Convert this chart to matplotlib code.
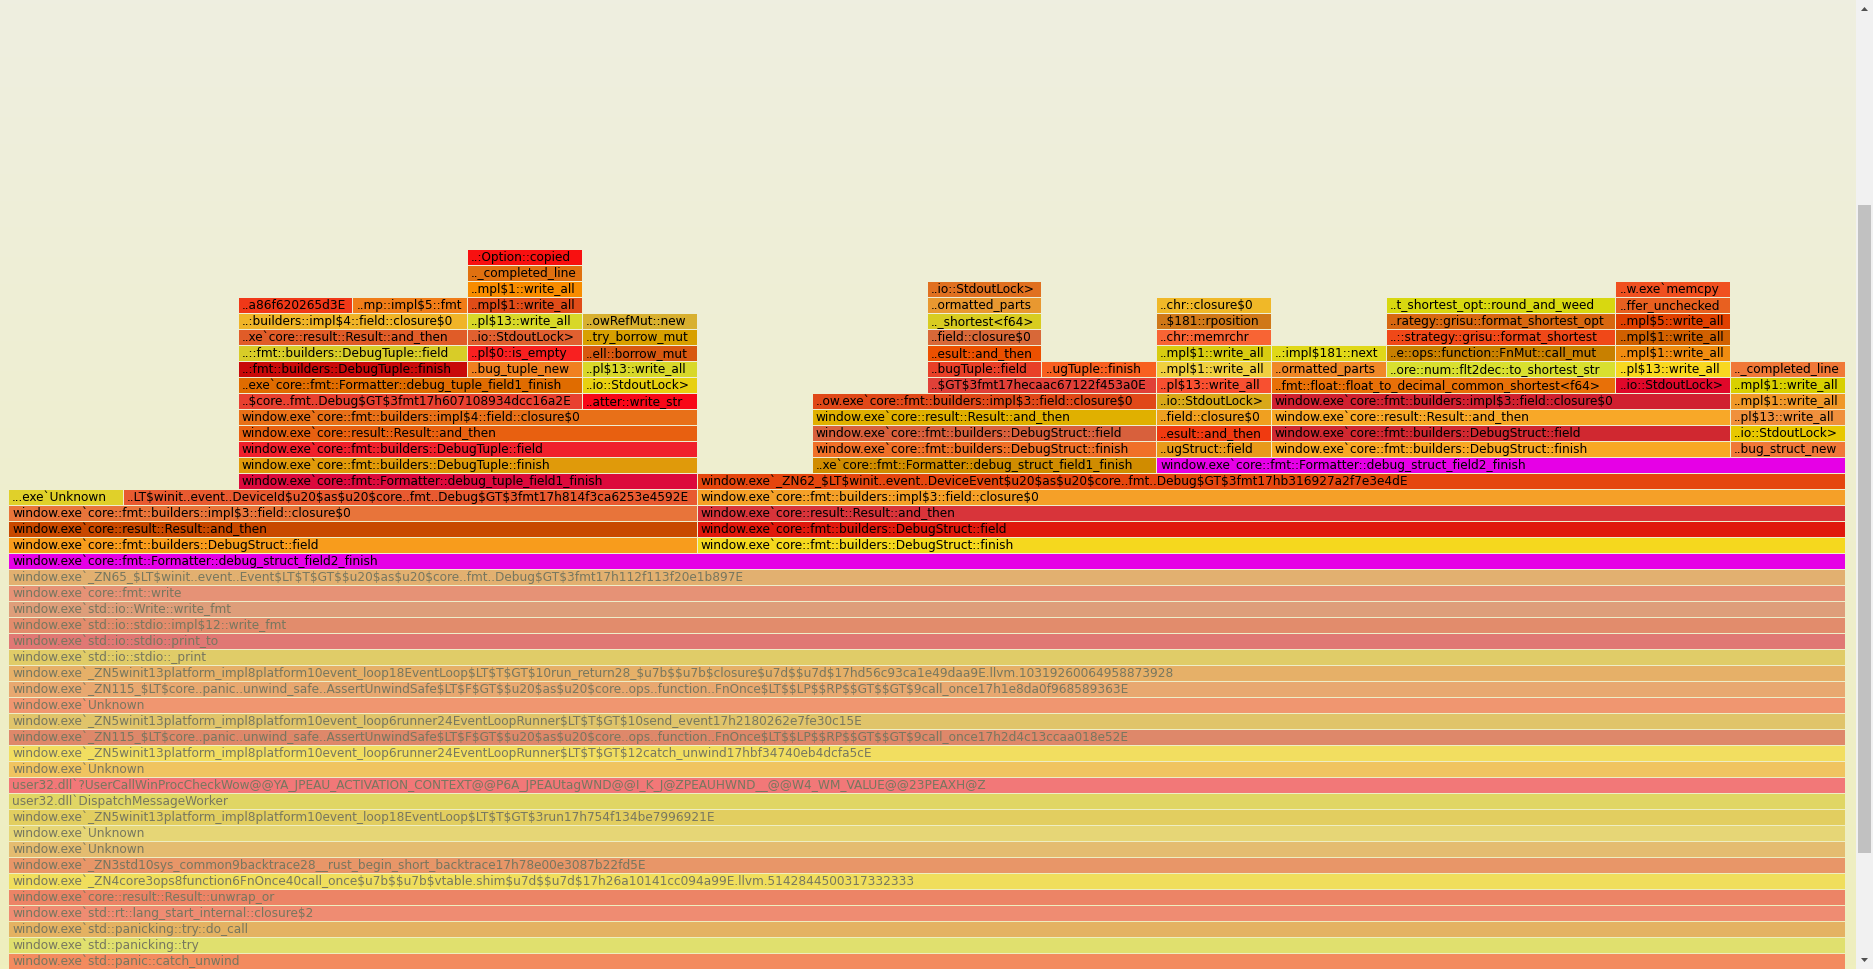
import matplotlib
matplotlib.use("Agg")
import matplotlib.pyplot as plt
from matplotlib.patches import Rectangle, Polygon
import numpy as np

plt.rcParams["text.parse_math"] = False

W, H = 1873, 969
total_samples = 16

# parent frames of the zoomed frame (drawn faded), bottom -> top, full width
parent_labels = [
    "window.exe`std::panic::catch_unwind",
    "window.exe`std::panicking::try",
    "window.exe`std::panicking::try::do_call",
    "window.exe`std::rt::lang_start_internal::closure$2",
    "window.exe`core::result::Result::unwrap_or",
    "window.exe`_ZN4core3ops8function6FnOnce40call_once$u7b$$u7b$vtable.shim$u7d$$u7d$17h26a10141cc094a99E.llvm.5142844500317332333",
    "window.exe`_ZN3std10sys_common9backtrace28__rust_begin_short_backtrace17h78e00e3087b22fd5E",
    "window.exe`Unknown",
    "window.exe`Unknown",
    "window.exe`_ZN5winit13platform_impl8platform10event_loop18EventLoop$LT$T$GT$3run17h754f134be7996921E",
    "user32.dll`DispatchMessageWorker",
    "user32.dll`?UserCallWinProcCheckWow@@YA_JPEAU_ACTIVATION_CONTEXT@@P6A_JPEAUtagWND@@I_K_J@ZPEAUHWND__@@W4_WM_VALUE@@23PEAXH@Z",
    "window.exe`Unknown",
    "window.exe`_ZN5winit13platform_impl8platform10event_loop6runner24EventLoopRunner$LT$T$GT$12catch_unwind17hbf34740eb4dcfa5cE",
    "window.exe`_ZN115_$LT$core..panic..unwind_safe..AssertUnwindSafe$LT$F$GT$$u20$as$u20$core..ops..function..FnOnce$LT$$LP$$RP$$GT$$GT$9call_once17h2d4c13ccaa018e52E",
    "window.exe`_ZN5winit13platform_impl8platform10event_loop6runner24EventLoopRunner$LT$T$GT$10send_event17h2180262e7fe30c15E",
    "window.exe`Unknown",
    "window.exe`_ZN115_$LT$core..panic..unwind_safe..AssertUnwindSafe$LT$F$GT$$u20$as$u20$core..ops..function..FnOnce$LT$$LP$$RP$$GT$$GT$9call_once17h1e8da0f968589363E",
    "window.exe`_ZN5winit13platform_impl8platform10event_loop18EventLoop$LT$T$GT$10run_return28_$u7b$$u7b$closure$u7d$$u7d$17hd56c93ca1e49daa9E.llvm.10319260064958873928",
    "window.exe`std::io::stdio::_print",
    "window.exe`std::io::stdio::print_to",
    "window.exe`std::io::stdio::impl$12::write_fmt",
    "window.exe`std::io::Write::write_fmt",
    "window.exe`core::fmt::write",
    "window.exe`_ZN65_$LT$winit..event..Event$LT$T$GT$$u20$as$u20$core..fmt..Debug$GT$3fmt17h112f113f20e1b897E",
]
parent_colors = [
    "#f38b5f", "#e0e06e", "#e4b262", "#ef8c72", "#ec8466", "#f0de5c",
    "#e89668", "#e4bc70", "#e6d676", "#e2ce60", "#e0d664", "#f27878",
    "#f0c460", "#f2de60", "#de886a", "#e0c46a", "#f09670", "#e8a870",
    "#e6b068", "#e0cc68", "#e07874", "#e28c6c", "#de9e7a", "#e69276",
    "#e2b070",
]

focus_label = "window.exe`core::fmt::Formatter::debug_struct_field2_finish"
focus_color = "#e600e6"

# frames above the zoomed frame: depth, first sample, sample count, label
child_depth = [
    26, 26,
    27, 27,
    28, 28,
    29, 29, 29,
    30, 30,
    31, 31, 31,
    32, 32, 32, 32, 32,
    33, 33, 33, 33, 33,
    34, 34, 34, 34, 34,
    35, 35, 35, 35, 35, 35,
    36, 36, 36, 36, 36, 36, 36,
    37, 37, 37, 37, 37, 37, 37, 37, 37, 37,
    38, 38, 38, 38, 38, 38, 38, 38,
    39, 39, 39, 39, 39, 39, 39,
    40, 40, 40, 40, 40, 40, 40,
    41, 41, 41, 41, 41, 41, 41,
    42, 42, 42,
    43,
    44,
]
child_start = [
    0, 6,
    0, 6,
    0, 6,
    0, 1, 6,
    2, 6,
    2, 7, 10,
    2, 7, 10, 11, 15,
    2, 7, 10, 11, 15,
    2, 7, 10, 11, 15,
    2, 5, 7, 10, 11, 15,
    2, 5, 8, 10, 11, 14, 15,
    2, 4, 5, 8, 9, 10, 11, 12, 14, 15,
    2, 4, 5, 8, 10, 11, 12, 14,
    2, 4, 5, 8, 10, 12, 14,
    2, 4, 5, 8, 10, 12, 14,
    2, 3, 4, 8, 10, 12, 14,
    4, 8, 14,
    4,
    4,
]
child_width = [
    6, 10,
    6, 10,
    6, 10,
    1, 5, 10,
    4, 10,
    4, 3, 6,
    4, 3, 1, 4, 1,
    4, 3, 1, 4, 1,
    4, 3, 1, 4, 1,
    3, 1, 3, 1, 4, 1,
    3, 1, 2, 1, 3, 1, 1,
    2, 1, 1, 1, 1, 1, 1, 2, 1, 1,
    2, 1, 1, 1, 1, 1, 2, 1,
    2, 1, 1, 1, 1, 2, 1,
    2, 1, 1, 1, 1, 2, 1,
    1, 1, 1, 1, 1, 2, 1,
    1, 1, 1,
    1,
    1,
]
child_label = [
    "window.exe`core::fmt::builders::DebugStruct::field",
    "window.exe`core::fmt::builders::DebugStruct::finish",
    "window.exe`core::result::Result::and_then",
    "window.exe`core::fmt::builders::DebugStruct::field",
    "window.exe`core::fmt::builders::impl$3::field::closure$0",
    "window.exe`core::result::Result::and_then",
    "...exe`Unknown",
    "..LT$winit..event..DeviceId$u20$as$u20$core..fmt..Debug$GT$3fmt17h814f3ca6253e4592E",
    "window.exe`core::fmt::builders::impl$3::field::closure$0",
    "window.exe`core::fmt::Formatter::debug_tuple_field1_finish",
    "window.exe`_ZN62_$LT$winit..event..DeviceEvent$u20$as$u20$core..fmt..Debug$GT$3fmt17hb316927a2f7e3e4dE",
    "window.exe`core::fmt::builders::DebugTuple::finish",
    "..xe`core::fmt::Formatter::debug_struct_field1_finish",
    "window.exe`core::fmt::Formatter::debug_struct_field2_finish",
    "window.exe`core::fmt::builders::DebugTuple::field",
    "window.exe`core::fmt::builders::DebugStruct::finish",
    "..ugStruct::field",
    "window.exe`core::fmt::builders::DebugStruct::finish",
    "..bug_struct_new",
    "window.exe`core::result::Result::and_then",
    "window.exe`core::fmt::builders::DebugStruct::field",
    "..esult::and_then",
    "window.exe`core::fmt::builders::DebugStruct::field",
    "..io::StdoutLock>",
    "window.exe`core::fmt::builders::impl$4::field::closure$0",
    "window.exe`core::result::Result::and_then",
    "..field::closure$0",
    "window.exe`core::result::Result::and_then",
    "..pl$13::write_all",
    "..$core..fmt..Debug$GT$3fmt17h607108934dcc16a2E",
    "..atter::write_str",
    "..ow.exe`core::fmt::builders::impl$3::field::closure$0",
    "..io::StdoutLock>",
    "window.exe`core::fmt::builders::impl$3::field::closure$0",
    "..mpl$1::write_all",
    "..exe`core::fmt::Formatter::debug_tuple_field1_finish",
    "..io::StdoutLock>",
    "..$GT$3fmt17hecaac67122f453a0E",
    "..pl$13::write_all",
    "..fmt::float::float_to_decimal_common_shortest<f64>",
    "..io::StdoutLock>",
    "..mpl$1::write_all",
    "..:fmt::builders::DebugTuple::finish",
    "..bug_tuple_new",
    "..pl$13::write_all",
    "..bugTuple::field",
    "..ugTuple::finish",
    "..mpl$1::write_all",
    "..ormatted_parts",
    "..ore::num::flt2dec::to_shortest_str",
    "..pl$13::write_all",
    ".._completed_line",
    "..::fmt::builders::DebugTuple::field",
    "..pl$0::is_empty",
    "..ell::borrow_mut",
    "..esult::and_then",
    "..mpl$1::write_all",
    "..:impl$181::next",
    "..e::ops::function::FnMut::call_mut",
    "..mpl$1::write_all",
    "..xe`core::result::Result::and_then",
    "..io::StdoutLock>",
    "..try_borrow_mut",
    "..field::closure$0",
    "..chr::memrchr",
    "..::strategy::grisu::format_shortest",
    "..mpl$1::write_all",
    "..:builders::impl$4::field::closure$0",
    "..pl$13::write_all",
    "..owRefMut::new",
    ".._shortest<f64>",
    "..$181::rposition",
    "..rategy::grisu::format_shortest_opt",
    "..mpl$5::write_all",
    "..a86f620265d3E",
    "..mp::impl$5::fmt",
    "..mpl$1::write_all",
    "..ormatted_parts",
    "..chr::closure$0",
    "..t_shortest_opt::round_and_weed",
    "..ffer_unchecked",
    "..mpl$1::write_all",
    "..io::StdoutLock>",
    "..w.exe`memcpy",
    ".._completed_line",
    "..:Option::copied",
]
child_color = [
    "#f89c1c", "#f5d81e",
    "#c84800", "#e0180c",
    "#e8743a", "#d8343a",
    "#e0d02a", "#e85a30", "#f5a028",
    "#dc0a3c", "#e5460e",
    "#e09a0a", "#d08c00", "#e600e6",
    "#f0202c", "#f07028", "#e89a1a", "#f8a824", "#f07838",
    "#e86010", "#d8603c", "#f03a10", "#d02830", "#e8c800",
    "#e87018", "#e0b000", "#f0a020", "#f8a828", "#f0903c",
    "#e84030", "#f80818", "#e04818", "#d8a818", "#d02030", "#f09828",
    "#e06c00", "#e8d010", "#e04038", "#f85030", "#e87008", "#e0082a", "#d8d000",
    "#c80a0a", "#f08020", "#d8d82a", "#e84028", "#f86020", "#f0d040", "#f08828",
    "#d8e030", "#f8d820", "#f07838",
    "#d8cc28", "#f82020", "#d85810", "#ec5000", "#d8cc10", "#e0d818", "#c88000",
    "#f08c10",
    "#e05c28", "#e06030", "#d8a000", "#d86838", "#f86434", "#f04818", "#d06000",
    "#f0b428", "#d8d828", "#d8b030", "#d8cc20", "#d07818", "#d86810", "#e04000",
    "#f03818", "#f07c18", "#e04c18", "#e89830", "#f0b828", "#d8d810", "#e86020",
    "#f88c00", "#e07020", "#f05020",
    "#e07010",
    "#f81010",
]

fig = plt.figure(figsize=(W / 100, H / 100), dpi=100)

# page background gradient
bg = fig.add_axes([0, 0, 1, 1])
grad = np.linspace(0, 1, 256)[:, None]
top = np.array([238, 238, 224]) / 255
bot = np.array([239, 239, 190]) / 255
img = top[None, None, :] * (1 - grad[:, :, None]) + bot[None, None, :] * grad[:, :, None]
bg.imshow(img, aspect="auto", extent=[0, 1, 0, 1])
bg.set_axis_off()

# flame graph area: samples on x, stack depth on y (16 px per row)
left_px, right_px = 9, 1846
ax = fig.add_axes([left_px / W, 0, (right_px - left_px) / W, 1])
ax.set_xlim(0, total_samples)
ax.set_ylim(0, H / 16)
ax.set_axis_off()
px = total_samples / (right_px - left_px)
row_h = 15 / 16
font_px = 12.1


def draw_frame(depth, start, width, label, color, faded=False):
    rect = Rectangle((start, depth), width - px, row_h, facecolor=color,
                     edgecolor="none")
    ax.add_patch(rect)
    t = ax.text(start + 3 * px, depth + 3.6 / 16, label,
                fontsize=font_px * 0.72, family="DejaVu Sans",
                color="#77775f" if faded else "black",
                ha="left", va="baseline", parse_math=False)
    t.set_clip_path(rect)


for d, (lab, col) in enumerate(zip(parent_labels, parent_colors)):
    draw_frame(d, 0, total_samples, lab, col, faded=True)

draw_frame(len(parent_labels), 0, total_samples, focus_label, focus_color)

for d, s, w, lab, col in zip(child_depth, child_start, child_width,
                             child_label, child_color):
    draw_frame(d, s, w, lab, col)

# browser scrollbar
sb = fig.add_axes([0, 0, 1, 1])
sb.set_xlim(0, W)
sb.set_ylim(H, 0)
sb.set_axis_off()
sb.add_patch(Rectangle((1856, 0), 17, H, facecolor="#f1f1f1", edgecolor="none"))
sb.add_patch(Rectangle((1858, 205), 13, 648, facecolor="#c1c1c1", edgecolor="none"))
sb.add_patch(Polygon([[1861, 11], [1868, 11], [1864.5, 7]], closed=True,
                     facecolor="#505050", edgecolor="none"))
sb.add_patch(Polygon([[1861, 958], [1868, 958], [1864.5, 962]], closed=True,
                     facecolor="#505050", edgecolor="none"))

fig.savefig("out.png", dpi=100)
